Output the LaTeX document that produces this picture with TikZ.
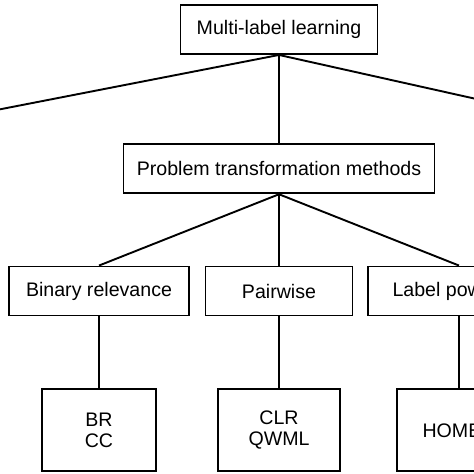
\documentclass[tikz,border=0pt]{standalone}
\usepackage{fontspec}
\setmainfont{Liberation Sans}
\usetikzlibrary{positioning}

\begin{document}
\begin{tikzpicture}[
    x=1pt, y=-1pt,
    box/.style={draw, line width=1.9pt, minimum height=49pt, inner sep=0pt,
                align=center, font=\fontsize{19.6}{21}\selectfont},
    leaf/.style={box, minimum height=82pt},
    edge/.style={line width=1.9pt}]

  % === Frame (the picture is cut at its edges) ===
  \useasboundingbox (0,0) rectangle (474,474);
  \clip (0,0) rectangle (474,474);

  % === Root and middle level ===
  \node[box, minimum width=197pt] (mll) at (279,29.5) {Multi-label learning};
  \node[box, minimum width=311pt] (ptm) at (279,168.8) {Problem transformation methods};

  % Branches leaving the frame
  \coordinate (aam) at (-178,144);
  \coordinate (ens) at (678,144);

  % === Transformation families ===
  \node[box, minimum width=180pt] (br) at (99,291) {Binary relevance};
  \node[box, minimum width=147pt] (pw) at (279,291) {Pairwise};
  \node[box, minimum width=182pt] (lp) at (459,291) {Label powerset};

  % Methods
  \node[leaf, minimum width=114pt, below=72pt of br] (brcc) {BR\\CC};
  \node[leaf, minimum width=122.5pt, below=72pt of pw] (clr) {CLR\\QWML};
  \node[leaf, minimum width=124pt, below=72pt of lp] (homer) {HOMER};

  % === Connectors ===
  \draw[edge] (mll.south) -- (ptm.north);
  \draw[edge] (mll.south) -- (aam);
  \draw[edge] (mll.south) -- (ens);

  \draw[edge] (ptm.south) -- (br.north);
  \draw[edge] (ptm.south) -- (pw.north);
  \draw[edge] (ptm.south) -- (lp.north);

  \draw[edge] (br) -- (brcc);
  \draw[edge] (pw) -- (clr);
  \draw[edge] (lp) -- (homer);

\end{tikzpicture}
\end{document}
